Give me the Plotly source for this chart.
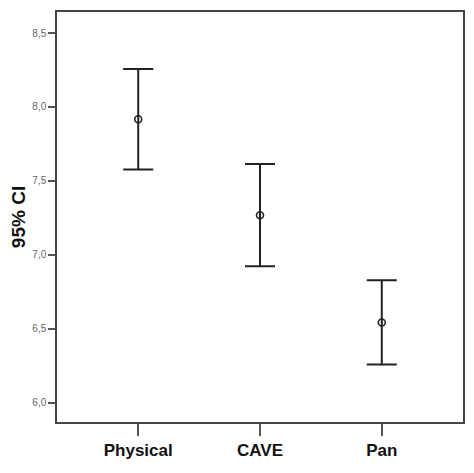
import plotly.graph_objects as go

categories = ["Physical", "CAVE", "Pan"]
means = [7.917, 7.268, 6.543]
lower = [7.577, 6.923, 6.259]
upper = [8.257, 7.615, 6.829]
ytick_vals = [6.0, 6.5, 7.0, 7.5, 8.0, 8.5]

err_plus = [u - m for u, m in zip(upper, means)]
err_minus = [m - l for m, l in zip(means, lower)]

fig = go.Figure()
fig.add_trace(go.Scatter(
    x=[0, 1, 2], y=means, mode="markers",
    marker=dict(symbol="circle-open", size=7, color="#222222", line=dict(width=1.6)),
    error_y=dict(type="data", symmetric=False, array=err_plus, arrayminus=err_minus,
                 color="#222222", thickness=2, width=15),
    showlegend=False,
))

fig.update_layout(
    width=466, height=465,
    margin=dict(l=49, r=11, t=4, b=51, autoexpand=False),
    plot_bgcolor="white", paper_bgcolor="white",
    separators=",.",
    font=dict(family="Arial, Liberation Sans, sans-serif"),
)
fig.update_xaxes(
    range=[-0.667, 2.667], tickvals=[0, 1, 2], ticktext=categories,
    showgrid=False, zeroline=False, automargin=False,
    showline=True, linecolor="#444444", linewidth=1.5, mirror=True,
    ticks="outside", ticklen=12, tickcolor="#555555", tickwidth=1.5,
    tickfont=dict(size=17, color="#111111", weight="bold"),
)
fig.update_yaxes(
    range=[5.87, 8.642], tickvals=ytick_vals, tickformat=".1f",
    showgrid=False, zeroline=False, automargin=False,
    showline=True, linecolor="#444444", linewidth=1.5, mirror=True,
    ticks="outside", ticklen=7, tickcolor="#555555", tickwidth=1.5,
    tickfont=dict(size=10, color="#666666"),
    title=dict(text="95% CI", font=dict(size=19, color="#111111", weight="bold"), standoff=3),
)

fig.write_html("out.html")
